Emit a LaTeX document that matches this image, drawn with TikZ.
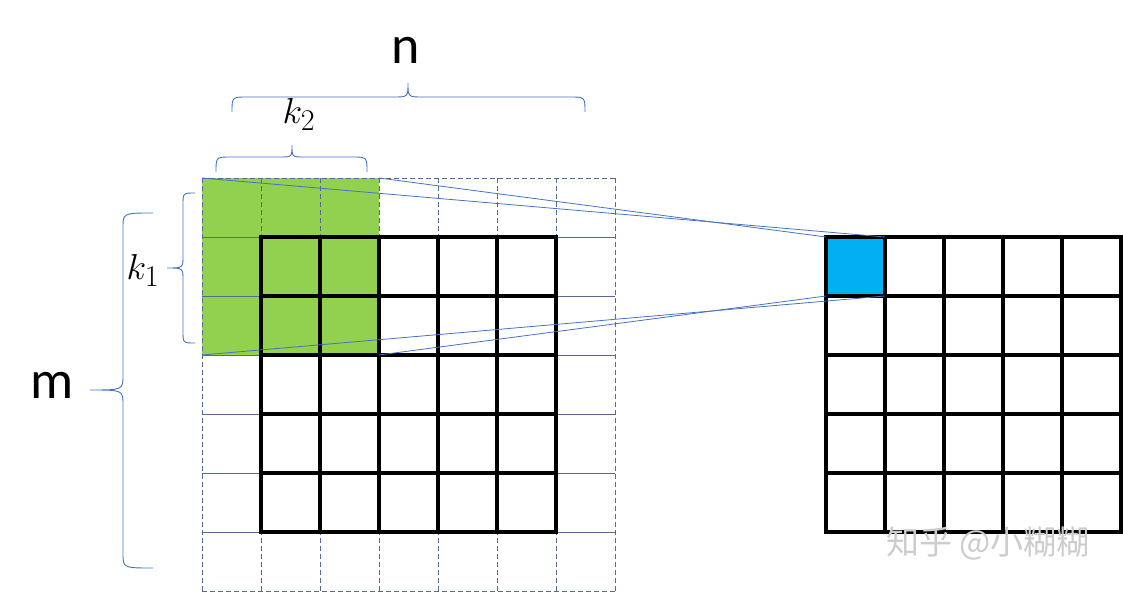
\documentclass[tikz,border=0pt]{standalone}
\usepackage{fontspec}
\newfontfamily\cjk{Noto Sans CJK SC}
\newfontfamily\labelfont{Carlito}
\definecolor{cellgreen}{RGB}{146,208,80}
\definecolor{cellblue}{RGB}{0,176,240}
\definecolor{linkblue}{RGB}{68,114,196}
\definecolor{gridslate}{RGB}{84,106,145}

\begin{document}
\begin{tikzpicture}[x=1pt, y=1pt,
		thin grid/.style = {gridslate, line width=0.8pt},
		thick grid/.style = {black, line width=3.2pt},
		link/.style = {linkblue, line width=0.8pt},
		curly/.style = {linkblue, line width=0.9pt},
		big label/.style = {inner sep=0pt, font=\labelfont\fontsize{54}{54}\selectfont},
		kernel label/.style = {inner sep=0pt, font=\fontsize{24.88}{25}\selectfont}]
		\useasboundingbox (0,0) rectangle (1123,592);
		
		% window corners on the input, and the output cell
		\coordinate (win-tl) at (202,414);
		\coordinate (win-tr) at (379,414);
		\coordinate (win-bl) at (202,237);
		\coordinate (win-br) at (379,237);
		\coordinate (out-tl) at (826,355);
		\coordinate (out-tr) at (885,355);
		\coordinate (out-bl) at (826,296);
		\coordinate (out-br) at (885,296);
		
		\fill [cellgreen] (win-bl) rectangle (win-tr);
		\fill [cellblue] (out-bl) rectangle (out-tr);
		
		% padded input m x n
		\draw [thin grid, dash pattern=on 5pt off 3pt, shift={(202,1)}, xstep=59pt, ystep=413pt] (0,0) grid (413,413);
		\draw [thin grid] (202,60) -- (615,60);
		\draw [thin grid] (202,119) -- (615,119);
		\draw [thin grid] (202,178) -- (615,178);
		\draw [thin grid] (202,237) -- (615,237);
		\draw [thin grid] (202,296) -- (615,296);
		\draw [thin grid] (202,355) -- (615,355);
		
		% original input and output
		\draw [thick grid, shift={(261,60)}, step=59pt] (0,0) grid (295,295);
		\draw [thick grid] (261,60) rectangle (556,355);
		\draw [thick grid, shift={(826,60)}, step=59pt] (0,0) grid (295,295);
		\draw [thick grid] (826,60) rectangle (1121,355);
		
		\draw [link] (win-tl) -- (out-tr);
		\draw [link] (win-tr) -- (out-tl);
		\draw [link] (win-bl) -- (out-br);
		\draw [link] (win-br) -- (out-bl);
		
		% braces
		\draw [curly] (232,480) .. controls (232,495) .. (247,495) -- (393,495) .. controls (408,495) .. (408,509)
			.. controls (408,495) .. (423,495) -- (570,495) .. controls (585,495) .. (585,480);
		\draw [curly] (216,420) .. controls (216,435) .. (231,435) -- (280,435) .. controls (292,435) .. (292,447)
			.. controls (292,435) .. (304,435) -- (352,435) .. controls (367,435) .. (367,420);
		\draw [curly] (195,399) .. controls (183,399) .. (183,387) -- (183,336) .. controls (183,324) .. (167,324)
			.. controls (183,324) .. (183,312) -- (183,261) .. controls (183,249) .. (195,249);
		\draw [curly] (153,379) .. controls (123,379) .. (123,364) -- (123,217) .. controls (123,202) .. (90,202)
			.. controls (123,202) .. (123,187) -- (123,39) .. controls (123,24) .. (153,24);
		
		\node [big label] (n) at (406,541.5) {n};
		\node [big label] (m) at (52.5,206.5) {m};
		\node [kernel label] (k2) at (299,478) {\scalebox{1.45}{$k_2$}};
		\node [kernel label] (k1) at (143,322) {\scalebox{1.45}{$k_1$}};
		
		\node [text=gray!40, font=\cjk\fontsize{33}{33}\selectfont] (mark) at (988,49) {知乎 @小糊糊};
\end{tikzpicture}
\end{document}
